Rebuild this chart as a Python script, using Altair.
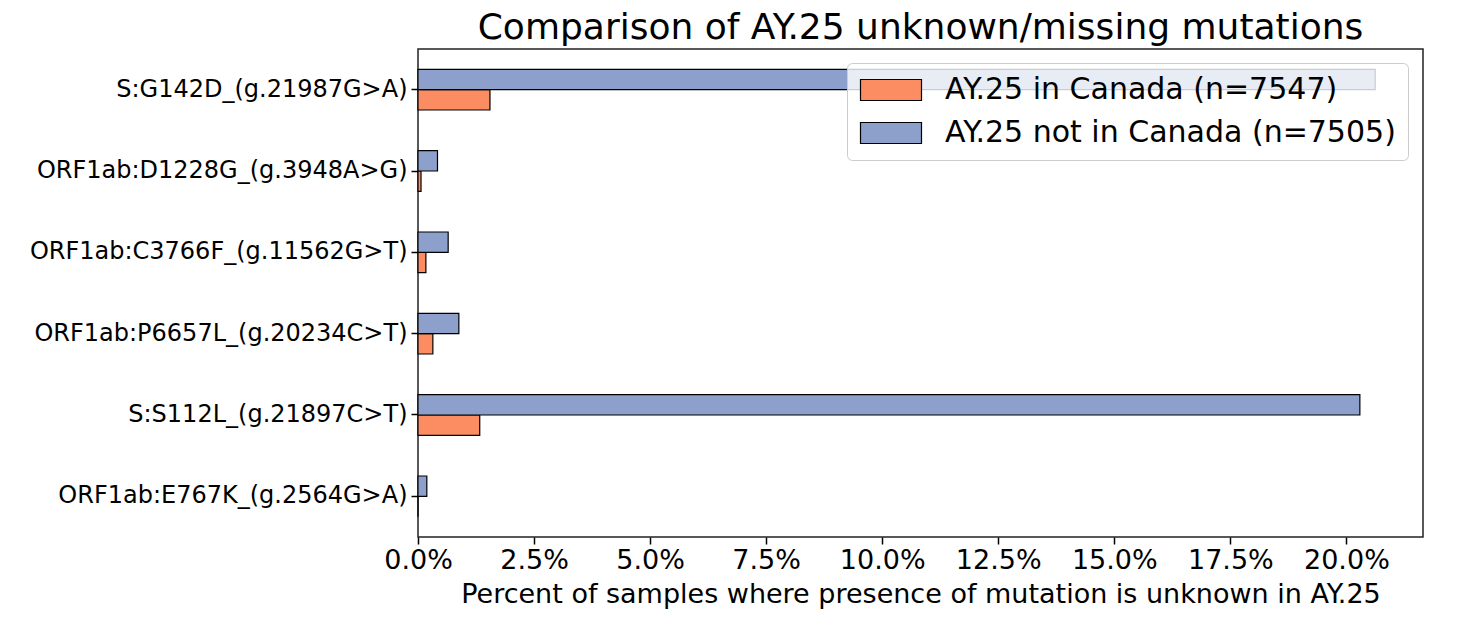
import altair as alt
import pandas as pd

mutations = [
    "S:G142D_(g.21987G>A)",
    "ORF1ab:D1228G_(g.3948A>G)",
    "ORF1ab:C3766F_(g.11562G>T)",
    "ORF1ab:P6657L_(g.20234C>T)",
    "S:S112L_(g.21897C>T)",
    "ORF1ab:E767K_(g.2564G>A)",
]
series_names = ["AY.25 in Canada (n=7547)", "AY.25 not in Canada (n=7505)"]
canada = [0.0155, 0.00065, 0.0017, 0.0032, 0.0133, 0.0]
not_canada = [0.2062, 0.0042, 0.0065, 0.0088, 0.2029, 0.0019]
x_ticks = [0, 0.025, 0.05, 0.075, 0.1, 0.125, 0.15, 0.175, 0.2]
colors = ["#fc8d62", "#8da0cb"]

rows = []
for m, a, b in zip(mutations, canada, not_canada):
    rows.append({"mutation": m, "series": series_names[0], "value": a})
    rows.append({"mutation": m, "series": series_names[1], "value": b})
df = pd.DataFrame(rows)

FONT = "DejaVu Sans"

chart = (
    alt.Chart(df)
    .mark_bar(stroke="black", strokeWidth=1.2)
    .encode(
        y=alt.Y(
            "mutation:N",
            sort=mutations,
            scale=alt.Scale(paddingInner=0.5, paddingOuter=0.25),
            axis=alt.Axis(
                title=None,
                labelFontSize=24,
                labelFont=FONT,
                labelColor="black",
                tickSize=7,
                tickWidth=1.5,
                tickColor="black",
                labelPadding=4,
                domain=False,
                labelLimit=600,
            ),
        ),
        yOffset=alt.YOffset(
            "series:N",
            sort=[series_names[1], series_names[0]],
            scale=alt.Scale(paddingInner=0, paddingOuter=0),
        ),
        x=alt.X(
            "value:Q",
            scale=alt.Scale(domain=[0, 0.2165], nice=False, zero=True),
            axis=alt.Axis(
                title="Percent of samples where presence of mutation is unknown in AY.25",
                titleFontSize=27,
                titleFont=FONT,
                titleFontWeight="normal",
                titleColor="black",
                titlePadding=8,
                values=x_ticks,
                format=".1%",
                labelFontSize=27,
                labelFont=FONT,
                labelColor="black",
                tickSize=7,
                tickWidth=1.5,
                tickColor="black",
                labelPadding=3,
                domain=False,
                grid=False,
                labelFlush=False,
            ),
        ),
        color=alt.Color(
            "series:N",
            scale=alt.Scale(domain=series_names, range=colors),
            legend=alt.Legend(
                title=None,
                orient="none",
                legendX=429,
                legendY=14,
                labelFontSize=30,
                labelFont=FONT,
                labelColor="black",
                labelLimit=700,
                symbolType="M-3.05,-1.05H3.05V1.05H-3.05Z",
                symbolSize=400,
                symbolOffset=17,
                labelOffset=39,
                symbolStrokeColor="black",
                symbolStrokeWidth=1.2,
                symbolOpacity=1,
                rowPadding=13,
                padding=12,
                fillColor="rgba(255,255,255,0.8)",
                strokeColor="#cccccc",
                cornerRadius=5,
            ),
        ),
    )
    .properties(
        width=1005,
        height=488,
        background="white",
        autosize=alt.AutoSizeParams(type="none"),
        padding={"left": 410, "top": 41, "right": 30, "bottom": 73},
        title=alt.TitleParams(
            "Comparison of AY.25 unknown/missing mutations",
            fontSize=36,
            font=FONT,
            fontWeight="normal",
            color="black",
            offset=2,
            frame="group",
            anchor="middle",
        ),
    )
    .configure_view(stroke="#222222", strokeWidth=1.5)
)

chart.save("out.html", embed_options={"renderer": "svg", "actions": False})
